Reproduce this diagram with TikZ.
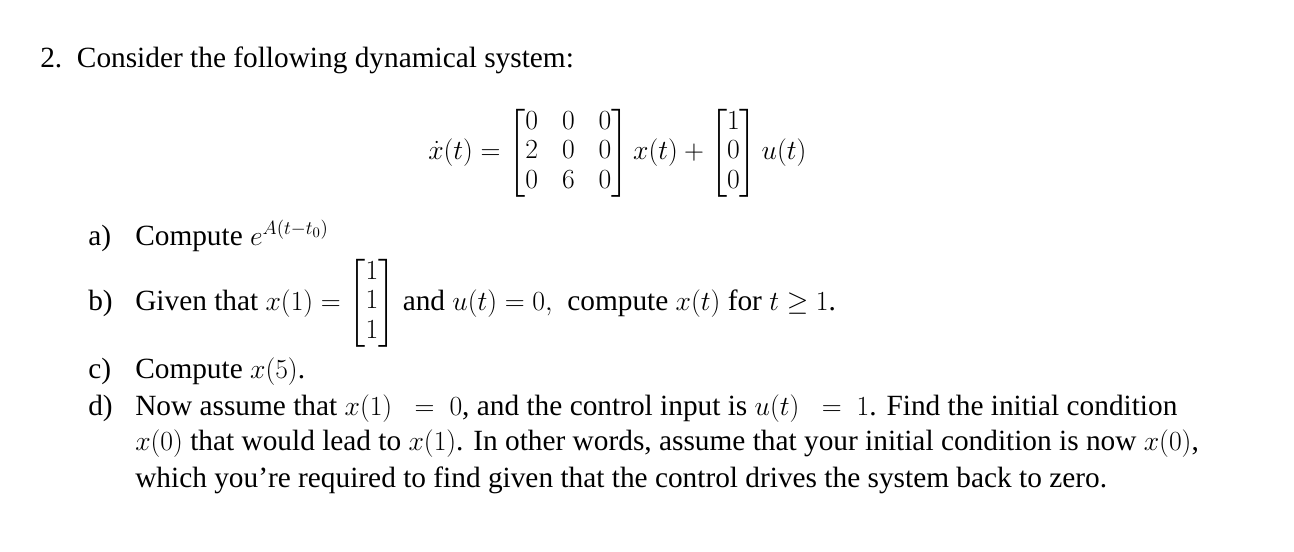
\documentclass[tikz,border=0pt]{standalone}
\usepackage{amsmath,amssymb}
\usepackage{fontspec}
\setmainfont{Liberation Serif}
\begin{document}
\begin{tikzpicture}[x=0.75pt,y=-0.75pt,
  txt/.style={anchor=base west,inner sep=0pt,font=\fontsize{22}{26}\selectfont}]
\useasboundingbox (0,0) rectangle (1294,552);
\node[txt] (t0) at (40,68) {2.\ \ Consider the following dynamical system:};
\node[txt] (eq) at (428,160) {$\renewcommand{\arraystretch}{0.85}\setlength{\arraycolsep}{9pt}\dot x(t)=\begin{bmatrix}0&0&0\\2&0&0\\0&6&0\end{bmatrix}x(t)+\setlength{\arraycolsep}{2pt}\begin{bmatrix}1\\0\\0\end{bmatrix}u(t)$};
\node[txt] (la) at (88,245) {a)};
\node[txt] (a) at (135,245) {Compute $e^{A(t-t_0)}$};
\node[txt] (lb) at (88,310) {b)};
\node[txt] (b) at (135,310) {Given that $x(1)=\renewcommand{\arraystretch}{0.85}\setlength{\arraycolsep}{2pt}\begin{bmatrix}1\\1\\1\end{bmatrix}$ and $u(t)=0,$\ \ compute $x(t)$ for $t\geq 1$.};
\node[txt] (lc) at (88,378) {c)};
\node[txt] (c) at (135,378) {Compute $x(5)$.};
\node[txt] (ld) at (88,415) {d)};
\node[txt] (d1) at (135,415) {Now assume that $x(1)\ \ =\ 0$, and the control input is $u(t)\ \ =\ 1$. Find the initial condition};
\node[txt] (d2) at (135,450) {$x(0)$ that would lead to $x(1)$. In other words, assume that your initial condition is now $x(0)$,};
\node[txt] (d3) at (135,487) {which you’re required to find given that the control drives the system back to zero.};
\end{tikzpicture}
\end{document}
